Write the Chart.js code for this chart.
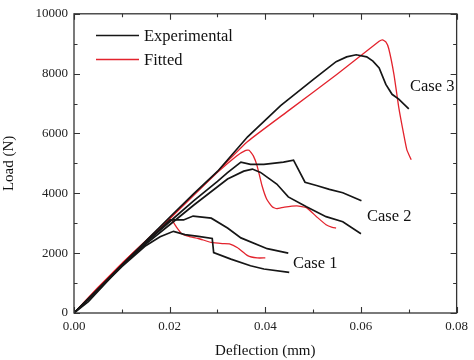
<!DOCTYPE html>
<html><head><meta charset="utf-8">
<script src="https://cdn.jsdelivr.net/npm/chart.js@4/dist/chart.umd.min.js"></script>
<style>html,body{margin:0;padding:0;background:#fff}#wrap{width:474px;height:360px}</style>
</head><body><div id="wrap"><canvas id="c" width="474" height="360"></canvas></div>
<script>
// ---- data (deflection in mm, load in N) ----
const xTicks = [0, 0.02, 0.04, 0.06, 0.08];
const yTicks = [0, 2000, 4000, 6000, 8000, 10000];
const legendLabels = ['Experimental', 'Fitted'];
const caseLabels = ['Case 1', 'Case 2', 'Case 3'];

const exp1aX = [0,0.005,0.01,0.015,0.0201,0.0229,0.0249,0.0287,0.0321,0.0349,0.0404,0.0448];
const exp1aY = [0,780,1600,2350,3110,3110,3240,3170,2840,2510,2150,2000];
const exp1bX = [0,0.005,0.01,0.015,0.018,0.0208,0.0232,0.026,0.0289,0.0292,0.0328,0.0369,0.0397,0.045];
const exp1bY = [0,760,1550,2250,2550,2730,2620,2560,2490,2020,1800,1580,1470,1360];
const fit1X  = [0,0.01,0.0198,0.0205,0.0215,0.0225,0.024,0.026,0.0287,0.031,0.0325,0.0342,0.0363,0.0383,0.04];
const fit1Y  = [0,1650,3110,3090,2850,2650,2560,2490,2360,2320,2310,2180,1920,1840,1840];

const exp2aX = [0,0.005,0.01,0.015,0.02,0.025,0.03,0.0321,0.0349,0.0369,0.0397,0.0438,0.0459,0.0483,0.0507,0.0534,0.0562,0.0601];
const exp2aY = [0,800,1600,2350,3050,3750,4400,4690,5040,4970,4970,5040,5110,4370,4260,4130,4020,3750];
const exp2bX = [0,0.005,0.01,0.015,0.02,0.025,0.0321,0.0355,0.0373,0.039,0.0424,0.0448,0.0486,0.0527,0.0562,0.06];
const exp2bY = [0,780,1580,2300,2950,3600,4480,4740,4810,4700,4310,3880,3550,3220,3050,2650];
const fit2X  = [0,0.01,0.02,0.03,0.034,0.0358,0.0366,0.0375,0.0383,0.0393,0.0403,0.0415,0.0424,0.044,0.0466,0.0486,0.0507,0.0527,0.054,0.0548];
const fit2Y  = [0,1650,3150,4700,5250,5430,5440,5250,4910,4260,3800,3540,3490,3540,3580,3520,3220,2950,2860,2840];

const exp3X = [0,0.003,0.006,0.01,0.015,0.02,0.025,0.03,0.0363,0.0432,0.05,0.0548,0.057,0.059,0.0612,0.0625,0.0638,0.0652,0.0665,0.0679,0.07];
const exp3Y = [0,380,900,1600,2400,3200,3980,4730,5890,6930,7800,8400,8560,8630,8560,8420,8190,7640,7310,7150,6820];
const fit3X = [0,0.005,0.01,0.02,0.03,0.0363,0.045,0.055,0.0638,0.0645,0.0652,0.0658,0.0669,0.0679,0.0689,0.0696,0.0705];
const fit3Y = [0,850,1650,3150,4730,5730,6780,7980,9080,9130,9060,8840,7970,6870,6000,5450,5120];

const BLACK = '#161616', RED = '#e3232d', AXIS = '#333333';
const SERIF = '"Liberation Serif", "DejaVu Serif", serif';

function pts(xs, ys){ return xs.map((x,i)=>({x:x, y:ys[i]})); }
function expDs(xs, ys){ return {data:pts(xs,ys), borderColor:BLACK, borderWidth:1.7, pointRadius:0, showLine:true, tension:0, fill:false}; }
function fitDs(xs, ys){ return {data:pts(xs,ys), borderColor:RED, borderWidth:1.3, pointRadius:0, showLine:true, tension:0.15, fill:false}; }

const datasets = [
  expDs(exp1aX, exp1aY), expDs(exp1bX, exp1bY),
  expDs(exp2aX, exp2aY), expDs(exp2bX, exp2bY),
  expDs(exp3X, exp3Y),
  fitDs(fit1X, fit1Y), fitDs(fit2X, fit2Y), fitDs(fit3X, fit3Y)
];

const decor = {
  id:'decor',
  afterDraw(chart){
    const {ctx, chartArea:a, scales:{x, y}} = chart;
    ctx.save();
    ctx.strokeStyle = AXIS; ctx.lineWidth = 1.3;
    ctx.strokeRect(a.left, a.top, a.right - a.left, a.bottom - a.top);
    ctx.lineWidth = 1.1;
    ctx.beginPath();
    for (let i = 0; i <= 8; i++) {
      const v = i * 0.01, px = Math.round(x.getPixelForValue(v)) + 0.5;
      const L = (i % 2 === 0) ? 6 : 3.5;
      ctx.moveTo(px, a.bottom); ctx.lineTo(px, a.bottom - L);
      ctx.moveTo(px, a.top); ctx.lineTo(px, a.top + L);
    }
    for (let i = 0; i <= 10; i++) {
      const v = i * 1000, py = Math.round(y.getPixelForValue(v)) + 0.5;
      const L = (i % 2 === 0) ? 6 : 3.5;
      ctx.moveTo(a.left, py); ctx.lineTo(a.left + L, py);
      ctx.moveTo(a.right, py); ctx.lineTo(a.right - L, py);
    }
    ctx.stroke();
    // legend
    ctx.lineWidth = 1.7; ctx.strokeStyle = BLACK;
    ctx.beginPath(); ctx.moveTo(96, 35.5); ctx.lineTo(139, 35.5); ctx.stroke();
    ctx.lineWidth = 1.4; ctx.strokeStyle = RED;
    ctx.beginPath(); ctx.moveTo(96, 59.5); ctx.lineTo(139, 59.5); ctx.stroke();
    ctx.fillStyle = '#111'; ctx.font = '16.5px ' + SERIF; ctx.textBaseline = 'middle'; ctx.textAlign = 'left';
    ctx.fillText(legendLabels[0], 144, 37);
    ctx.fillText(legendLabels[1], 144, 61);
    // case labels
    ctx.fillText(caseLabels[0], 293, 264);
    ctx.fillText(caseLabels[1], 367, 217);
    ctx.fillText(caseLabels[2], 410, 87);
    ctx.restore();
  }
};

new Chart(document.getElementById('c'), {
  type:'scatter',
  data:{datasets},
  plugins:[decor],
  options:{
    responsive:false, animation:false, devicePixelRatio:1,
    layout:{padding:{top:8, right:12, left:0, bottom:0}},
    plugins:{legend:{display:false}, tooltip:{enabled:false}},
    scales:{
      x:{type:'linear', min:0, max:0.08,
        afterFit(s){ s.height = 47; },
        afterBuildTicks(s){ s.ticks = xTicks.map(v=>({value:v})); },
        grid:{display:false, drawTicks:false}, border:{display:false},
        ticks:{padding:6, color:'#222', maxRotation:0, autoSkip:false, font:{family:SERIF, size:13}, callback:v=>Number(v).toFixed(2)},
        title:{display:true, text:'Deflection (mm)', color:'#111', font:{family:SERIF, size:15}, padding:0}
      },
      y:{type:'linear', min:0, max:10000,
        afterFit(s){ s.width = 74; },
        afterBuildTicks(s){ s.ticks = yTicks.map(v=>({value:v})); },
        grid:{display:false, drawTicks:false}, border:{display:false},
        ticks:{padding:6, color:'#222', autoSkip:false, font:{family:SERIF, size:13}, callback:v=>String(v)},
        title:{display:true, text:'Load (N)', color:'#111', font:{family:SERIF, size:15}, padding:0}
      }
    }
  }
});
</script>
</body></html>
